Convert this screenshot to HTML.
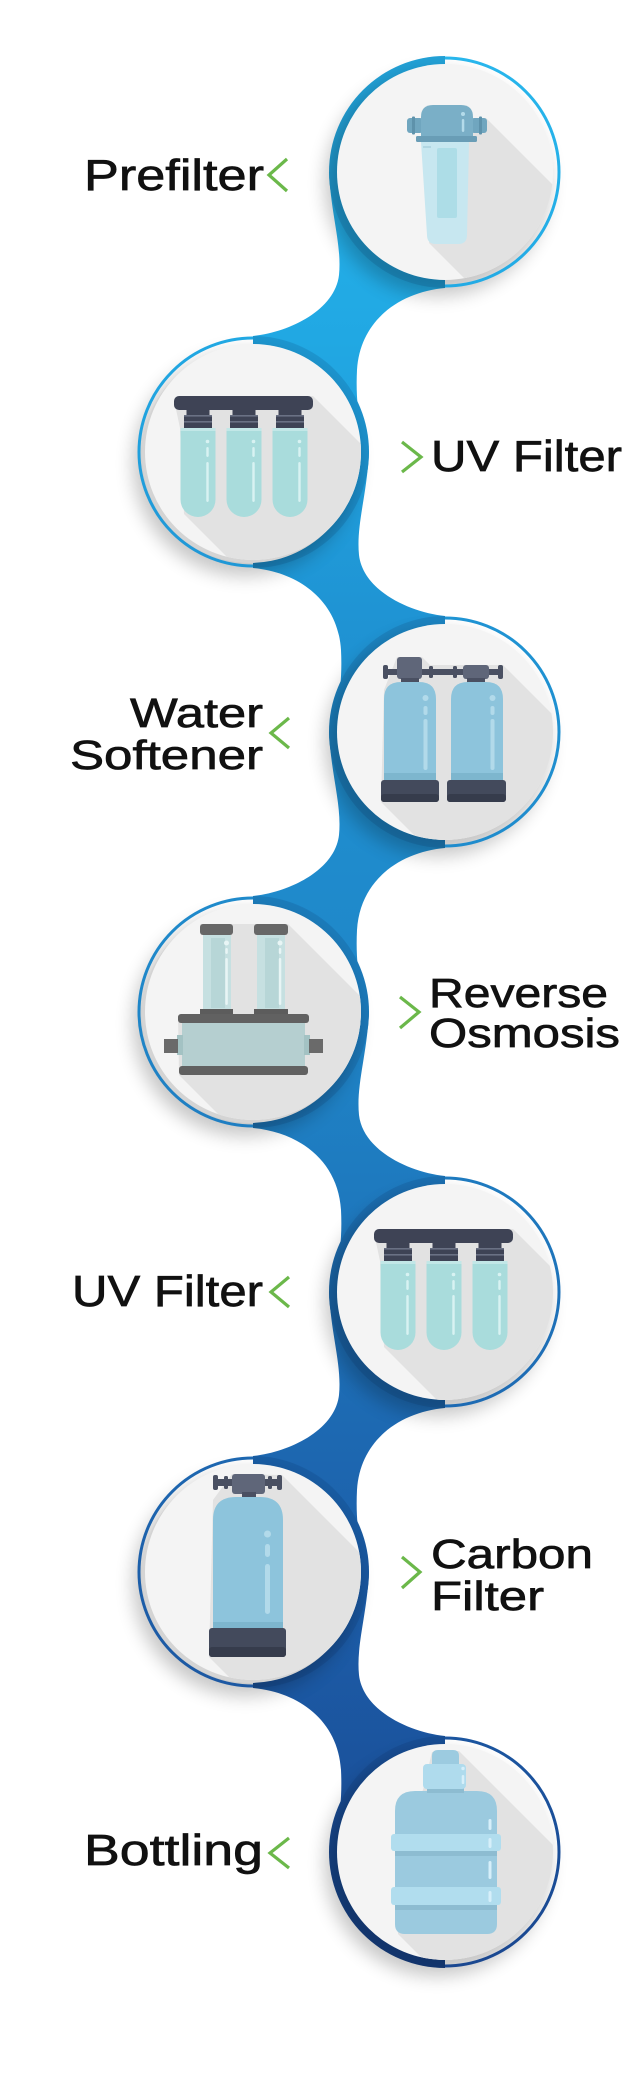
<!DOCTYPE html>
<html>
<head>
<meta charset="utf-8">
<style>
html,body{margin:0;padding:0;background:#fff;width:640px;height:2091px;overflow:hidden;}
svg{display:block;overflow:hidden;}
</style>
</head>
<body>
<svg width="640" height="2091" viewBox="0 0 640 2091" xmlns="http://www.w3.org/2000/svg">
<defs>
  <linearGradient id="rg" gradientUnits="userSpaceOnUse" x1="0" y1="50" x2="0" y2="1970">
    <stop offset="0" stop-color="#28b6ec"/>
    <stop offset="0.15" stop-color="#21a8e3"/>
    <stop offset="0.3" stop-color="#1f93d3"/>
    <stop offset="0.5" stop-color="#1f86c8"/>
    <stop offset="0.65" stop-color="#1e72b9"/>
    <stop offset="0.8" stop-color="#1c5ea9"/>
    <stop offset="1" stop-color="#1a4790"/>
  </linearGradient>
  <filter id="bl" x="-50%" y="-50%" width="200%" height="200%">
    <feGaussianBlur stdDeviation="9"/>
  </filter>
  <clipPath id="c1"><circle cx="445" cy="172" r="108"/></clipPath>
  <clipPath id="c2"><circle cx="253" cy="452" r="108"/></clipPath>
  <clipPath id="c3"><circle cx="445" cy="732" r="108"/></clipPath>
  <clipPath id="c4"><circle cx="253" cy="1012" r="108"/></clipPath>
  <clipPath id="c5"><circle cx="445" cy="1292" r="108"/></clipPath>
  <clipPath id="c6"><circle cx="253" cy="1572" r="108"/></clipPath>
  <clipPath id="c7"><circle cx="445" cy="1852" r="108"/></clipPath>
</defs>

<rect width="640" height="2091" fill="#ffffff"/>

<!-- ribbon -->
<g fill="url(#rg)">
  <path d="M445,56 A116,116 0 0 0 445,288 Z"/>
  <path d="M253,336 A116,116 0 0 1 253,568 Z"/>
  <path d="M445,616 A116,116 0 0 0 445,848 Z"/>
  <path d="M253,896 A116,116 0 0 1 253,1128 Z"/>
  <path d="M445,1176 A116,116 0 0 0 445,1408 Z"/>
  <path d="M253,1456 A116,116 0 0 1 253,1688 Z"/>
  <path d="M445,1736 A116,116 0 0 0 445,1968 Z"/>
  <path d="M329,172 C331,215 342,245 339,275 C335,310 290,332 253,336 L253,452 L369,452 C362,435 355,410 357,370 C360,320 400,292 445,288 L445,172 Z"/>
  <path d="M329,732 C331,775 342,805 339,835 C335,870 290,892 253,896 L253,1012 L369,1012 C362,995 355,970 357,930 C360,880 400,852 445,848 L445,732 Z"/>
  <path d="M329,1292 C331,1335 342,1365 339,1395 C335,1430 290,1452 253,1456 L253,1572 L369,1572 C362,1555 355,1530 357,1490 C360,1440 400,1412 445,1408 L445,1292 Z"/>
  <path d="M369,452 C367,495 356,525 359,555 C363,590 408,612 445,616 L445,732 L329,732 C336,715 343,690 341,650 C338,600 298,572 253,568 L253,452 Z"/>
  <path d="M369,1012 C367,1055 356,1085 359,1115 C363,1150 408,1172 445,1176 L445,1292 L329,1292 C336,1275 343,1250 341,1210 C338,1160 298,1132 253,1128 L253,1012 Z"/>
  <path d="M369,1572 C367,1615 356,1645 359,1675 C363,1710 408,1732 445,1736 L445,1852 L329,1852 C336,1835 343,1810 341,1770 C338,1720 298,1692 253,1688 L253,1572 Z"/>
</g>

<!-- darker band overlays -->
<g fill="#06224f" opacity="0.13">
  <path d="M445,56 A116,116 0 0 0 445,288 L445,280 A108,108 0 0 1 445,64 Z"/>
  <path d="M253,336 A116,116 0 0 1 253,568 L253,560 A108,108 0 0 0 253,344 Z"/>
  <path d="M445,616 A116,116 0 0 0 445,848 L445,840 A108,108 0 0 1 445,624 Z"/>
  <path d="M253,896 A116,116 0 0 1 253,1128 L253,1120 A108,108 0 0 0 253,904 Z"/>
  <path d="M445,1176 A116,116 0 0 0 445,1408 L445,1400 A108,108 0 0 1 445,1184 Z"/>
  <path d="M253,1456 A116,116 0 0 1 253,1688 L253,1680 A108,108 0 0 0 253,1464 Z"/>
  <path d="M445,1736 A116,116 0 0 0 445,1968 L445,1960 A108,108 0 0 1 445,1744 Z"/>
</g>

<!-- soft drop shadows -->
<g filter="url(#bl)" fill="#000" opacity="0.22">
  <circle cx="437" cy="184" r="112"/>
  <circle cx="245" cy="464" r="112"/>
  <circle cx="437" cy="744" r="112"/>
  <circle cx="245" cy="1024" r="112"/>
  <circle cx="437" cy="1304" r="112"/>
  <circle cx="245" cy="1584" r="112"/>
  <circle cx="437" cy="1864" r="112"/>
</g>

<!-- thin rings -->
<g fill="none" stroke="url(#rg)" stroke-width="3">
  <path d="M445,58 A114,114 0 0 1 445,286"/>
  <path d="M253,338 A114,114 0 0 0 253,566"/>
  <path d="M445,618 A114,114 0 0 1 445,846"/>
  <path d="M253,898 A114,114 0 0 0 253,1126"/>
  <path d="M445,1178 A114,114 0 0 1 445,1406"/>
  <path d="M253,1458 A114,114 0 0 0 253,1686"/>
  <path d="M445,1738 A114,114 0 0 1 445,1966"/>
</g>

<!-- gray crescents for left circles -->
<g fill="#d4d4d4">
  <circle cx="250" cy="455" r="108"/>
  <circle cx="250" cy="1015" r="108"/>
  <circle cx="250" cy="1575" r="108"/>
</g>

<!-- white disks -->
<g fill="#f4f4f4">
  <circle cx="445" cy="172" r="108"/>
  <circle cx="253" cy="452" r="108"/>
  <circle cx="445" cy="732" r="108"/>
  <circle cx="253" cy="1012" r="108"/>
  <circle cx="445" cy="1292" r="108"/>
  <circle cx="253" cy="1572" r="108"/>
  <circle cx="445" cy="1852" r="108"/>
</g>

<!-- long shadows -->
<g fill="#e2e2e2">
  <polygon clip-path="url(#c1)" points="486,118 636,268 579,393 429,243 445,140 470,120"/>
  <polygon clip-path="url(#c2)" points="313,396 463,546 334,664 184,514 180,428 174,400"/>
  <polygon clip-path="url(#c3)" points="503,665 653,815 531,952 381,802 384,690 397,657 422,657 430,665"/>
  <polygon clip-path="url(#c4)" points="288,924 438,1074 329,1225 179,1075 178,1016 203,1014 203,935 200,924"/>
  <polygon clip-path="url(#c5)" points="513,1229 663,1379 534,1497 384,1347 380,1261 374,1233"/>
  <polygon clip-path="url(#c6)" points="282,1475 432,1625 359,1807 209,1657 213,1500 232,1474"/>
  <polygon clip-path="url(#c7)" points="459,1751 609,1901 548,2084 398,1934 395,1830 423,1790 432,1752"/>
</g>

<!-- Icon 1: prefilter -->
<g>
  <rect x="407" y="118" width="16" height="15" rx="3" fill="#70a6bf"/>
  <rect x="471" y="118" width="16" height="15" rx="3" fill="#70a6bf"/>
  <rect x="412" y="116.5" width="3" height="18" rx="1" fill="#5e92ab"/>
  <rect x="479" y="116.5" width="3" height="18" rx="1" fill="#5e92ab"/>
  <path d="M421,138 V117 Q421,105 433,105 H461 Q473,105 473,117 V138 Z" fill="#7aafc7"/>
  <rect x="416" y="136" width="61" height="6" rx="1.5" fill="#699db6"/>
  <path d="M421,142 H469 L467,235 Q467,244 458,244 H436 Q427,244 427,235 Z" fill="#c7e7f0"/>
  <rect x="437" y="148" width="20" height="70" rx="2" fill="#addde7"/>
  <rect x="423" y="146" width="8" height="2" fill="#b0d6e2"/>
  <circle cx="463" cy="114" r="2" fill="#b4dbea"/>
  <rect x="461.8" y="119" width="2.5" height="13" rx="1.2" fill="#b4dbea"/>
</g>

<!-- Icon 2: triple filter -->
<g id="tri">
  <rect x="174" y="396" width="139" height="14" rx="5" fill="#3e4355"/>
  <rect x="186.5" y="409" width="23" height="7" fill="#3e4355"/>
  <rect x="184" y="415" width="28" height="13" fill="#3e4355"/>
  <rect x="184" y="415" width="28" height="1.6" fill="#6a7184"/>
  <rect x="184" y="421" width="28" height="1.6" fill="#6a7184"/>
  <rect x="232.5" y="409" width="23" height="7" fill="#3e4355"/>
  <rect x="230" y="415" width="28" height="13" fill="#3e4355"/>
  <rect x="230" y="415" width="28" height="1.6" fill="#6a7184"/>
  <rect x="230" y="421" width="28" height="1.6" fill="#6a7184"/>
  <rect x="278.5" y="409" width="23" height="7" fill="#3e4355"/>
  <rect x="276" y="415" width="28" height="13" fill="#3e4355"/>
  <rect x="276" y="415" width="28" height="1.6" fill="#6a7184"/>
  <rect x="276" y="421" width="28" height="1.6" fill="#6a7184"/>
  <path d="M180.5,428 H215.5 V499.5 A17.5,17.5 0 0 1 180.5,499.5 Z" fill="#a9dcdc"/>
  <path d="M226.5,428 H261.5 V499.5 A17.5,17.5 0 0 1 226.5,499.5 Z" fill="#a9dcdc"/>
  <path d="M272.5,428 H307.5 V499.5 A17.5,17.5 0 0 1 272.5,499.5 Z" fill="#a9dcdc"/>
  <rect x="180.5" y="428" width="35" height="3" fill="#c2e7e7"/>
  <rect x="226.5" y="428" width="35" height="3" fill="#c2e7e7"/>
  <rect x="272.5" y="428" width="35" height="3" fill="#c2e7e7"/>
  <g fill="#d8f2f2">
    <circle cx="207.5" cy="441.5" r="1.8"/>
    <rect x="206.3" y="447" width="2.4" height="10" rx="1.2"/>
    <rect x="206.3" y="462" width="2.4" height="40" rx="1.2"/>
    <circle cx="253.5" cy="441.5" r="1.8"/>
    <rect x="252.3" y="447" width="2.4" height="10" rx="1.2"/>
    <rect x="252.3" y="462" width="2.4" height="40" rx="1.2"/>
    <circle cx="299.5" cy="441.5" r="1.8"/>
    <rect x="298.3" y="447" width="2.4" height="10" rx="1.2"/>
    <rect x="298.3" y="462" width="2.4" height="40" rx="1.2"/>
  </g>
</g>

<!-- Icon 3: two tanks -->
<g>
  <rect x="383" y="669" width="120" height="6" fill="#4a5062"/>
  <rect x="383" y="665" width="5" height="14" rx="2" fill="#4a5062"/>
  <rect x="429" y="666" width="4" height="12" rx="1.5" fill="#4a5062"/>
  <rect x="453" y="666" width="4" height="12" rx="1.5" fill="#4a5062"/>
  <rect x="498" y="665" width="5" height="14" rx="2" fill="#4a5062"/>
  <rect x="397" y="657" width="25" height="22" rx="3" fill="#5f6679"/>
  <rect x="401" y="678" width="18" height="5" fill="#4a5062"/>
  <rect x="463" y="665" width="26" height="14" rx="3" fill="#5f6679"/>
  <rect x="467" y="678" width="18" height="5" fill="#4a5062"/>
  <path d="M384,780 V699 Q384,682 401,682 H419 Q436,682 436,699 V780 Z" fill="#8dc4dc"/>
  <path d="M451,780 V699 Q451,682 468,682 H486 Q503,682 503,699 V780 Z" fill="#8dc4dc"/>
  <rect x="384" y="773" width="52" height="7" fill="#7db6ce"/>
  <rect x="451" y="773" width="52" height="7" fill="#7db6ce"/>
  <rect x="381" y="780" width="58" height="22" rx="3" fill="#434a5c"/>
  <rect x="381" y="794" width="58" height="8" rx="3" fill="#363c4c"/>
  <rect x="447" y="780" width="59" height="22" rx="3" fill="#434a5c"/>
  <rect x="447" y="794" width="59" height="8" rx="3" fill="#363c4c"/>
  <g fill="#b2daea">
    <circle cx="425.5" cy="698" r="3"/>
    <rect x="423.5" y="706" width="4" height="9" rx="2"/>
    <rect x="423.5" y="719" width="4" height="51" rx="2"/>
    <circle cx="492.5" cy="698" r="3"/>
    <rect x="490.5" y="706" width="4" height="9" rx="2"/>
    <rect x="490.5" y="719" width="4" height="51" rx="2"/>
  </g>
</g>

<!-- Icon 4: reverse osmosis -->
<g>
  <rect x="203" y="935" width="28" height="74" fill="#c6e0e1"/>
  <rect x="211" y="938" width="14" height="70" fill="#b7d6d7"/>
  <rect x="257" y="935" width="28" height="74" fill="#c6e0e1"/>
  <rect x="265" y="938" width="14" height="70" fill="#b7d6d7"/>
  <rect x="200" y="924" width="33" height="11" rx="3" fill="#676767"/>
  <rect x="254" y="924" width="34" height="11" rx="3" fill="#676767"/>
  <g fill="#e8f5f5">
    <circle cx="226.5" cy="943" r="2.5"/>
    <rect x="225.3" y="948" width="2.5" height="6" rx="1.2"/>
    <rect x="225.3" y="958" width="2.5" height="47" rx="1.2"/>
    <circle cx="280" cy="943" r="2.5"/>
    <rect x="278.8" y="948" width="2.5" height="6" rx="1.2"/>
    <rect x="278.8" y="958" width="2.5" height="47" rx="1.2"/>
  </g>
  <rect x="200" y="1009" width="33" height="6" fill="#5c5c5c"/>
  <rect x="254" y="1009" width="34" height="6" fill="#5c5c5c"/>
  <rect x="182" y="1023" width="123" height="43" fill="#b5cfd0"/>
  <rect x="177" y="1035" width="6" height="20" fill="#a3c2c3"/>
  <rect x="164" y="1039" width="14" height="14" fill="#6a6a6a"/>
  <rect x="304" y="1035" width="6" height="20" fill="#a3c2c3"/>
  <rect x="309" y="1039" width="14" height="14" fill="#6a6a6a"/>
  <rect x="178" y="1014" width="131" height="9" rx="3" fill="#616161"/>
  <rect x="179" y="1066" width="129" height="9" rx="3" fill="#616161"/>
</g>

<!-- Icon 5: triple filter -->
<use href="#tri" transform="translate(200,833)"/>

<!-- Icon 6: single tank -->
<g>
  <rect x="213" y="1479" width="69" height="7" fill="#4a5062"/>
  <rect x="213" y="1475" width="5" height="15" rx="2" fill="#4a5062"/>
  <rect x="224" y="1476" width="4" height="13" rx="1.5" fill="#4a5062"/>
  <rect x="268" y="1476" width="4" height="13" rx="1.5" fill="#4a5062"/>
  <rect x="277" y="1475" width="5" height="15" rx="2" fill="#4a5062"/>
  <rect x="232" y="1474" width="33" height="20" rx="3" fill="#5f6679"/>
  <rect x="242" y="1492" width="14" height="6" fill="#4a5062"/>
  <path d="M213,1631 V1520 Q213,1497 236,1497 H260 Q283,1497 283,1520 V1631 Z" fill="#8dc4dc"/>
  <rect x="213" y="1622" width="70" height="9" fill="#7db6ce"/>
  <rect x="209" y="1628" width="77" height="29" rx="3" fill="#434a5c"/>
  <rect x="209" y="1647" width="77" height="10" rx="3" fill="#363c4c"/>
  <g fill="#b2daea">
    <circle cx="267.5" cy="1534" r="3.5"/>
    <rect x="265" y="1544" width="5" height="13" rx="2.5"/>
    <rect x="265" y="1564" width="5" height="50" rx="2.5"/>
  </g>
</g>

<!-- Icon 7: bottle -->
<g>
  <path d="M432,1765 V1756 Q432,1750 438,1750 H453 Q459,1750 459,1756 V1765 Z" fill="#9ccbe0"/>
  <path d="M415,1791 H477 Q497,1791 497,1811 V1924 Q497,1934 487,1934 H405 Q395,1934 395,1924 V1811 Q395,1791 415,1791 Z" fill="#9bcadf"/>
  <rect x="427" y="1787" width="37" height="6" fill="#8dbcd1"/>
  <rect x="423" y="1764" width="43" height="25" rx="4" fill="#afdbed"/>
  <rect x="395" y="1851" width="102" height="5" fill="#8dbcd1"/>
  <rect x="395" y="1905" width="102" height="5" fill="#8dbcd1"/>
  <rect x="391" y="1834" width="110" height="17" rx="3" fill="#b1ddee"/>
  <rect x="391" y="1887" width="110" height="18" rx="3" fill="#b1ddee"/>
  <g fill="#d6effa">
    <rect x="488.5" y="1819" width="3" height="11" rx="1.5"/>
    <rect x="488.5" y="1838" width="3" height="10" rx="1.5"/>
    <rect x="488.5" y="1861" width="3" height="18" rx="1.5"/>
    <rect x="488.5" y="1891" width="3" height="11" rx="1.5"/>
    <circle cx="463" cy="1768.5" r="1.7"/>
    <rect x="461.7" y="1775" width="2.6" height="9" rx="1.3"/>
  </g>
</g>

<!-- Labels -->
<g font-family="'Liberation Sans', sans-serif" fill="#111" stroke="#111" stroke-width="0.7">
  <text x="84" y="190" font-size="44" textLength="180" lengthAdjust="spacingAndGlyphs">Prefilter</text>
  <text x="431" y="471" font-size="44" textLength="191" lengthAdjust="spacingAndGlyphs">UV Filter</text>
  <text x="130" y="727" font-size="41" textLength="133" lengthAdjust="spacingAndGlyphs">Water</text>
  <text x="70" y="769" font-size="41" textLength="193" lengthAdjust="spacingAndGlyphs">Softener</text>
  <text x="429" y="1007" font-size="41" textLength="179" lengthAdjust="spacingAndGlyphs">Reverse</text>
  <text x="429" y="1047" font-size="41" textLength="191" lengthAdjust="spacingAndGlyphs">Osmosis</text>
  <text x="72" y="1306" font-size="44" textLength="191" lengthAdjust="spacingAndGlyphs">UV Filter</text>
  <text x="431" y="1568" font-size="41" textLength="162" lengthAdjust="spacingAndGlyphs">Carbon</text>
  <text x="431" y="1610" font-size="41" textLength="113" lengthAdjust="spacingAndGlyphs">Filter</text>
  <text x="84" y="1865" font-size="44" textLength="179" lengthAdjust="spacingAndGlyphs">Bottling</text>
</g>

<!-- Chevrons -->
<g fill="none" stroke="#6bb84a" stroke-width="3.2">
  <polyline points="287,159 269,175 287,191"/>
  <polyline points="402,442 421,457 402,472"/>
  <polyline points="289,718 271,733 289,748"/>
  <polyline points="400,997 419,1012 400,1028"/>
  <polyline points="289,1277 271,1292 289,1307"/>
  <polyline points="402,1557 420,1572 402,1588"/>
  <polyline points="289,1838 270,1853 289,1868"/>
</g>
</svg>
</body>
</html>
